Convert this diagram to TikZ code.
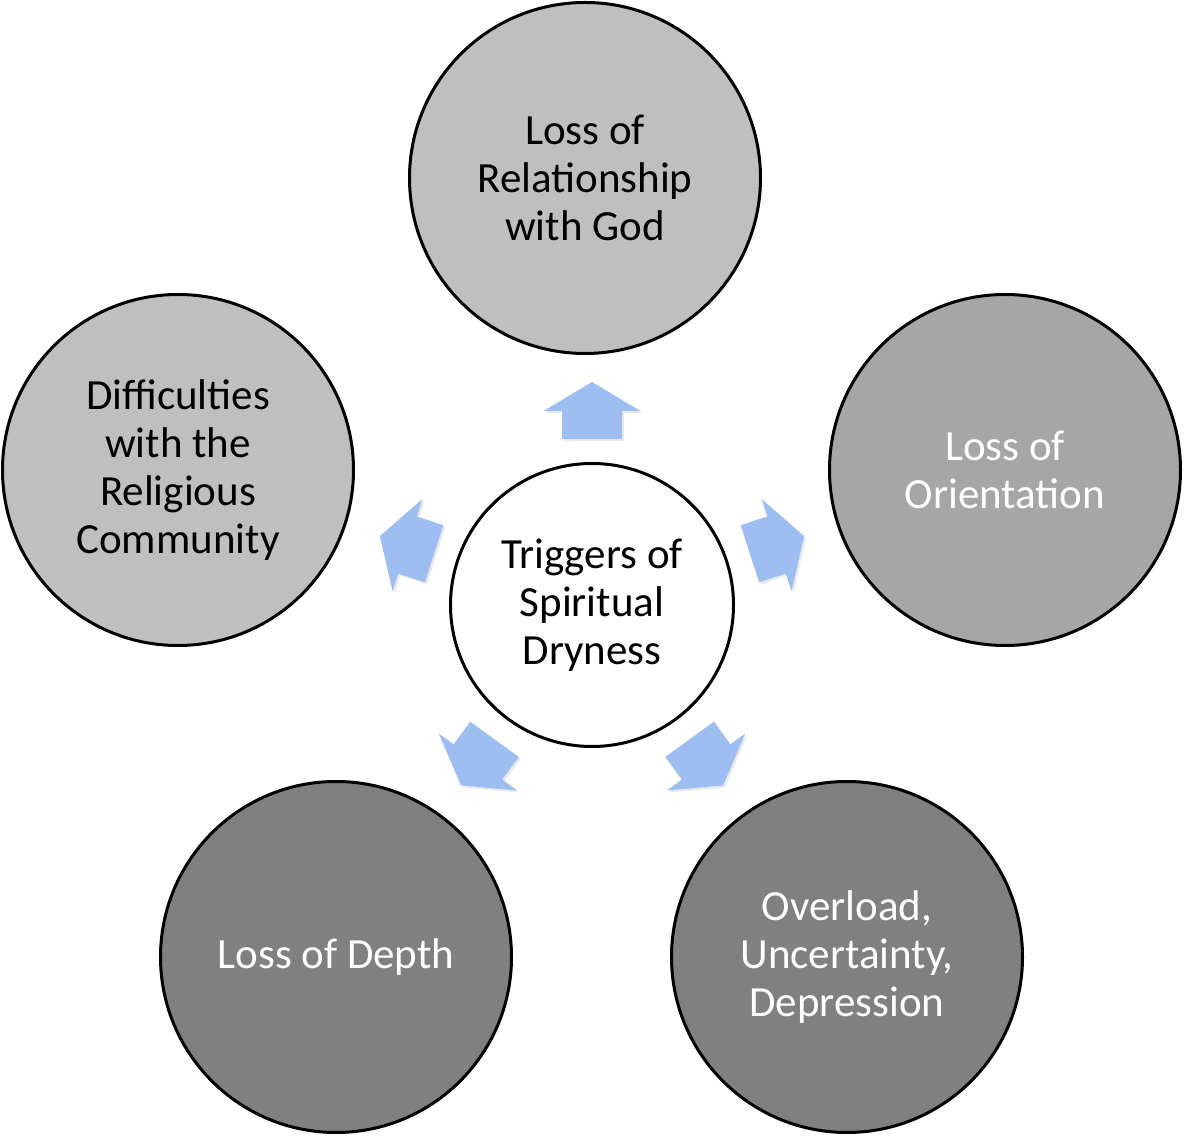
\documentclass[tikz,border=0pt]{standalone}
\usepackage{fontspec}
\setmainfont{Carlito}
\definecolor{arrowblue}{RGB}{158,190,242}
\definecolor{lightg}{RGB}{191,191,191}
\definecolor{midg}{RGB}{166,166,166}
\definecolor{darkg}{RGB}{128,128,128}
\begin{document}
\begin{tikzpicture}[x=1pt,y=1pt,
  outer/.style={circle,draw=black,line width=3pt,minimum size=351pt,inner sep=0pt,align=center,
    font=\fontsize{43}{48}\selectfont},
  inner/.style={circle,draw=black,line width=3pt,fill=white,minimum size=283pt,inner sep=0pt,align=center,
    font=\fontsize{43}{48}\selectfont},
  blockarrow/.style={fill=arrowblue},
  arrowshadow/.style={fill=black!9}]
\useasboundingbox (0,0) rectangle (1184,1136);
\node[outer,fill=lightg] (top) at (585,958) {Loss of\\Relationship\\with God};
\node[outer,fill=midg,text=white] (right) at (1005,666) {Loss of\\Orientation};
\node[outer,fill=lightg] (left) at (178,666) {Difficulties\\with the\\Religious\\Community};
\node[outer,fill=darkg,text=white] (bl) at (336,179) {Loss of Depth};
\node[outer,fill=darkg,text=white] (br) at (847,179) {Overload,\\Uncertainty,\\Depression};
\node[inner] (center) at (592,531) {Triggers of\\Spiritual\\Dryness};
\foreach \a in {90,18,162,234,306}{
  \begin{scope}[shift={(594,529)},rotate=\a]
    \fill[arrowshadow] (166,-30) -- (194,-30) -- (194,-48.5) -- (223,0) -- (194,48.5) -- (194,30) -- (166,30) -- cycle;
  \end{scope}
  \begin{scope}[shift={(center.center)},rotate=\a]
    \fill[blockarrow] (166,-30) -- (194,-30) -- (194,-48.5) -- (223,0) -- (194,48.5) -- (194,30) -- (166,30) -- cycle;
  \end{scope}
}
\end{tikzpicture}
\end{document}
